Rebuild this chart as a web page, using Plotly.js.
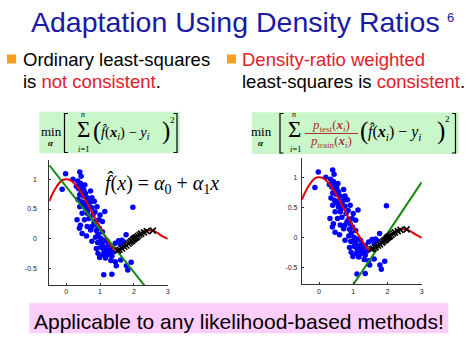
<!DOCTYPE html>
<html><head><meta charset="utf-8">
<script src="https://cdn.plot.ly/plotly-3.0.1.min.js"></script>
<style>html,body{margin:0;padding:0;background:#fff}#c{width:474px;height:355px}</style>
</head><body><div id="c"></div>
<script>
// ---- data ----
const trainX = [-0.12,-0.02,0.20,0.40,0.44,0.34,0.42,0.47,0.37,0.52,0.45,0.57,0.72,0.40,0.50,0.62,0.76,0.45,0.59,0.72,0.83,0.40,0.57,0.67,0.76,0.91,1.14,0.47,0.62,0.79,0.32,0.54,0.67,0.87,0.97,1.07,0.42,0.62,0.76,0.91,0.39,0.72,0.89,0.47,0.94,1.07,1.97,0.87,1.02,1.11,0.76,0.93,1.21,1.07,0.89,1.02,1.16,1.25,1.28,1.35,1.45,1.55,1.65,1.77,1.61,0.94,1.09,1.21,0.99,1.16,1.35,1.32,1.45,1.48,1.61,1.78,1.92,1.82,1.11,1.35,1.11,0.30,0.55,0.64,0.85,0.98,1.18,1.30,1.40,0.52,0.35,0.82,1.05,1.70,1.00,0.60];
const trainY = [0.83,1.09,1.00,1.12,1.05,0.97,0.93,0.88,0.84,0.82,0.79,0.76,0.80,0.74,0.72,0.69,0.69,0.62,0.61,0.62,0.63,0.54,0.51,0.56,0.52,0.54,0.46,0.43,0.43,0.40,0.32,0.32,0.34,0.31,0.32,0.29,0.23,0.21,0.21,0.23,0.18,0.15,0.14,0.09,0.08,0.12,0.53,0.03,0.01,-0.02,-0.04,-0.06,-0.04,-0.10,-0.16,-0.14,-0.14,-0.10,-0.18,-0.13,-0.07,-0.03,-0.02,0.07,-0.10,-0.24,-0.26,-0.27,-0.31,-0.32,-0.29,-0.36,-0.38,-0.45,-0.35,-0.45,-0.39,-0.52,-0.60,-0.59,-0.18,0.88,0.90,0.47,0.45,0.18,-0.22,-0.24,-0.22,0.58,0.66,0.27,-0.05,-0.05,0.40,0.05];
const testX = [1.53,1.58,1.65,1.72,1.78,1.84,1.88,1.92,1.95,1.98,2.00,2.02,2.05,2.08,2.12,2.17,2.22,2.30,2.38,2.56];
const testY = [-0.19,-0.18,-0.16,-0.13,-0.11,-0.08,-0.06,-0.04,-0.03,-0.01,0.00,0.01,0.02,0.03,0.05,0.07,0.09,0.11,0.13,0.14];
const trueX = [-0.5,-0.4,-0.3,-0.2,-0.1,0.0,0.1,0.2,0.3,0.4,0.5,0.6,0.7,0.8,0.9,1.0,1.1,1.2,1.3,1.4,1.5,1.6,1.7,1.8,1.9,2.0,2.1,2.2,2.3,2.4,2.5,2.6,2.7,2.8,2.9,3.0];
const trueY = [0.63,0.76,0.86,0.94,0.99,1.00,0.99,0.95,0.89,0.81,0.72,0.62,0.51,0.40,0.29,0.19,0.09,0.00,-0.09,-0.17,-0.20,-0.19,-0.15,-0.10,-0.05,0.00,0.05,0.09,0.12,0.14,0.14,0.13,0.10,0.06,0.03,0.00];
const fitOlsX = [-0.5, 3.0];
const fitOlsY = [1.23, -1.27];
const fitIwX = [-0.5, 3.0];
const fitIwY = [-2.05, 0.92];
const xTicks = [0, 1, 2, 3];
const yTicks = [-0.5, 0, 0.5, 1];
const yTickText = ['-0.5', '0', '0.5', '1'];

// ---- helpers ----
const W = 474, H = 355;
const P = x => x / W, Q = y => 1 - y / H;
const SANS = 'Liberation Sans, Arial, sans-serif';
const SERIF = 'Liberation Serif, DejaVu Serif, serif';
function ann(text, x, y, size, o) {
  o = o || {};
  return {xref:'paper', yref:'paper', x:P(x), y:Q(y), text:text, showarrow:false,
    xanchor:o.xa||'center', yanchor:'middle', borderpad:0, borderwidth:0,
    font:{family:o.family||SANS, size:size, color:o.color||'#000'}};
}
function rect(x0,y0,x1,y1,fill){return {type:'rect',xref:'paper',yref:'paper',x0:P(x0),x1:P(x1),y0:Q(y1),y1:Q(y0),fillcolor:fill,line:{width:0},layer:'below'};}
function path(pts,color,w){let d='M '+pts.map(p=>P(p[0])+','+Q(p[1])).join(' L ');return {type:'path',xref:'paper',yref:'paper',path:d,line:{color:color,width:w}};}

function series(xa, ya, fitX, fitY) {
  return [
    {x:trainX, y:trainY, xaxis:xa, yaxis:ya, mode:'markers', type:'scatter', marker:{color:'#0000ff', size:5.5}, cliponaxis:false},
    {x:trueX, y:trueY, xaxis:xa, yaxis:ya, mode:'lines', type:'scatter', line:{color:'#e00000', width:2, shape:'spline'}},
    {x:fitX, y:fitY, xaxis:xa, yaxis:ya, mode:'lines', type:'scatter', line:{color:'#108a10', width:2}},
    {x:testX, y:testY, xaxis:xa, yaxis:ya, mode:'markers', type:'scatter', marker:{symbol:'x-thin-open', color:'#000', size:6, line:{color:'#000', width:1.6}}}
  ];
}
const data = series('x','y',fitOlsX,fitOlsY).concat(series('x2','y2',fitIwX,fitIwY));

function axX(dom, anchor){return {domain:dom, anchor:anchor, range:[-0.5,3], tickvals:xTicks, ticktext:xTicks.map(String), showline:true, linecolor:'#333', linewidth:1, ticks:'inside', ticklen:2, tickcolor:'#333', showgrid:false, zeroline:false, tickfont:{family:SANS,size:7,color:'#222'}, fixedrange:true};}
function axY(dom, anchor, st){return {domain:dom, anchor:anchor, range:[-0.77,1.32], tickvals:yTicks, ticktext:yTickText, showline:true, linecolor:'#333', linewidth:1, ticks:'inside', ticklen:2, tickcolor:'#333', showgrid:false, zeroline:false, ticklabelstandoff:st, tickfont:{family:SANS,size:7,color:'#222'}, fixedrange:true};}

const RED = '#e0202a', ORANGE = '#f5a022', BROWN = '#a83232';
const xb = '<b><i>x</i></b><sub><i>i</i></sub>';
const core = '<i>f̂</i>(' + xb + ') − <i>y</i><sub><i>i</i></sub>';

const annotations = [
  ann('Adaptation Using Density Ratios', 31, 22, 28.5, {xa:'left', color:'#1a1aa6'}),
  ann('6', 450, 17, 13, {color:'#1a1aa6'}),
  ann('Ordinary least-squares', 22.5, 59, 18.5, {xa:'left'}),
  ann('is <span style="color:'+RED+'">not consistent</span>.', 22.5, 81, 18.5, {xa:'left'}),
  ann('<span style="color:'+RED+'">Density-ratio weighted</span>', 242, 59, 18.5, {xa:'left'}),
  ann('least-squares is <span style="color:'+RED+'">consistent</span>.', 242, 81, 18.5, {xa:'left'}),
  // left formula
  ann('min', 51, 131.5, 13, {family:SERIF}),
  ann('<b><i>α</i></b>', 51, 142.5, 9, {family:SERIF}),
  ann('<i>n</i>', 83, 114.5, 8, {family:SERIF}),
  ann('Σ', 83.5, 130, 23, {family:SERIF}),
  ann('<i>i</i>=1', 83.5, 148.5, 8.5, {family:SERIF}),
  ann('(', 97, 131, 25, {family:SERIF}),
  ann(core, 100.5, 133, 14.5, {family:SERIF, xa:'left'}),
  ann(')', 166, 131, 25, {family:SERIF}),
  ann('2', 172, 120, 9, {family:SERIF}),
  // right formula
  ann('min', 261, 131.5, 13, {family:SERIF}),
  ann('<b><i>α</i></b>', 261, 142.5, 9, {family:SERIF}),
  ann('<i>n</i>', 294, 114.5, 8, {family:SERIF}),
  ann('Σ', 294.5, 130, 23, {family:SERIF}),
  ann('<i>i</i>=1', 295.5, 148.5, 8.5, {family:SERIF}),
  ann('<i>p</i><sub>test</sub>(' + xb + ')', 331, 126, 13, {family:SERIF, color:BROWN}),
  ann('<i>p</i><sub>train</sub>(' + xb + ')', 331, 141.5, 13, {family:SERIF, color:BROWN}),
  ann('(', 363.5, 131, 25, {family:SERIF}),
  ann(core, 368, 133, 16, {family:SERIF, xa:'left'}),
  ann(')', 440.5, 131, 25, {family:SERIF}),
  ann('2', 447, 118.5, 9, {family:SERIF}),
  // model annotation
  ann('<i>f̂</i>(<i>x</i>) = <i>α</i><sub>0</sub> + <i>α</i><sub>1</sub><i>x</i>', 162, 184, 20, {family:SERIF}),
  // bottom
  ann('Applicable to any likelihood-based methods!', 238.5, 321, 21)
];

const shapes = [
  rect(7, 54.5, 16, 63.5, ORANGE),
  rect(227, 54.5, 236, 63.5, ORANGE),
  rect(39.3, 111.7, 180, 153.3, '#c9f7c9'),
  rect(252, 112.3, 458.7, 154, '#c9f7c9'),
  rect(29.3, 303.3, 448.3, 333.3, '#fdcdfb'),
  path([[68,113.5],[64.5,113.5],[64.5,152.5],[68,152.5]], '#000', 1.2),
  path([[173.5,113.5],[177,113.5],[177,152.5],[173.5,152.5]], '#000', 1.2),
  path([[283.5,113.5],[280,113.5],[280,153],[283.5,153]], '#000', 1.2),
  path([[452,113.5],[455.5,113.5],[455.5,153],[452,153]], '#000', 1.2),
  path([[305,133.5],[358,133.5]], BROWN, 1)
];

const layout = {
  width:W, height:H, margin:{l:0,r:0,t:0,b:0}, paper_bgcolor:'#fff', plot_bgcolor:'rgba(0,0,0,0)', showlegend:false,
  xaxis: axX([P(49.3), P(167.7)], 'y'),
  yaxis: axY([Q(285), Q(160)], 'x', 10),
  xaxis2: axX([P(301.9), P(421.7)], 'y2'),
  yaxis2: axY([Q(284.3), Q(158)], 'x2', 2),
  annotations: annotations, shapes: shapes
};
Plotly.newPlot('c', data, layout, {staticPlot:true, displayModeBar:false});
</script></body></html>
